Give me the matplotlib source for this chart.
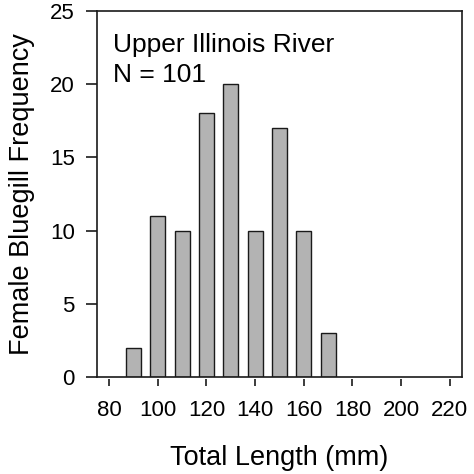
import matplotlib
matplotlib.use("Agg")
import matplotlib.pyplot as plt

plt.rcParams['font.family'] = ['Liberation Sans', 'DejaVu Sans']

lengths = [90, 100, 110, 120, 130, 140, 150, 160, 170]
counts = [2, 11, 10, 18, 20, 10, 17, 10, 3]
xticks = [80, 100, 120, 140, 160, 180, 200, 220]
yticks = [0, 5, 10, 15, 20, 25]

fig = plt.figure(figsize=(4.74, 4.74), dpi=100)
ax = fig.add_axes([0.2046, 0.2046, 0.9747 - 0.2046, 0.9768 - 0.2046])

ax.bar(lengths, counts, width=6.2, color='#b3b3b3', edgecolor='#1a1a1a', linewidth=1.0, zorder=2)

ax.set_xlim(75, 225)
ax.set_ylim(0, 25)
ax.set_xticks(xticks)
ax.set_yticks(yticks)

for s in ax.spines.values():
    s.set_linewidth(1.2)
    s.set_color('#1a1a1a')
ax.spines['bottom'].set_position(('outward', 1.5))
ax.spines['bottom'].set_visible(False)
ax.axhline(0, color='#1a1a1a', linewidth=1.2, zorder=3, clip_on=False)

ax.tick_params(axis='y', direction='out', length=8, width=1.2, color='#1a1a1a', labelsize=16, pad=8)
ax.tick_params(axis='x', direction='out', length=5, width=1.2, color='#1a1a1a', labelsize=16, pad=10)

ax.set_xlabel('Total Length (mm)', fontsize=19.5, labelpad=17)
ax.set_ylabel('Female Bluegill Frequency', fontsize=19.5, labelpad=11)

ax.text(0.045, 0.888, 'Upper Illinois River', transform=ax.transAxes,
        fontsize=19, va='baseline', ha='left')
ax.text(0.045, 0.806, 'N = 101', transform=ax.transAxes,
        fontsize=19, va='baseline', ha='left')

fig.savefig('out.png', dpi=100)
